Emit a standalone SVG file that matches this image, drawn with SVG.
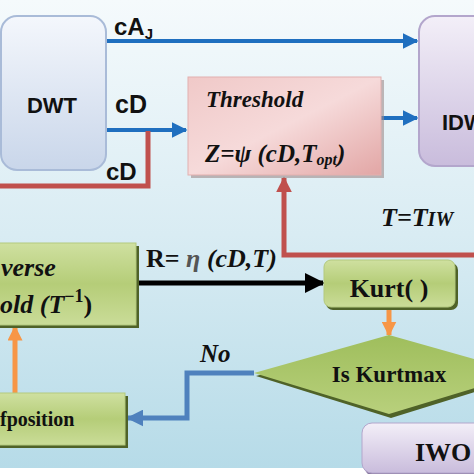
<svg xmlns="http://www.w3.org/2000/svg" width="474" height="474" viewBox="0 0 474 474">
<defs>
<linearGradient id="bg" x1="0" y1="0" x2="0" y2="1">
<stop offset="0" stop-color="#f5fafc"/><stop offset="0.5" stop-color="#d9ecf3"/><stop offset="1" stop-color="#b6dbe8"/>
</linearGradient>
<linearGradient id="gBlue" x1="0" y1="0" x2="0" y2="1">
<stop offset="0" stop-color="#f4f7fc"/><stop offset="1" stop-color="#c9d6ea"/>
</linearGradient>
<linearGradient id="gPurple" x1="0" y1="0" x2="0" y2="1">
<stop offset="0" stop-color="#f3eff8"/><stop offset="1" stop-color="#c9bcdc"/>
</linearGradient>
<linearGradient id="gPink" x1="0" y1="0" x2="1" y2="1">
<stop offset="0" stop-color="#f0c9c8"/><stop offset="0.5" stop-color="#f6dada"/><stop offset="1" stop-color="#e2a6a5"/>
</linearGradient>
<linearGradient id="gGreen" x1="0" y1="0" x2="0" y2="1">
<stop offset="0" stop-color="#cfe0a0"/><stop offset="0.5" stop-color="#b5cd78"/><stop offset="1" stop-color="#cadc98"/>
</linearGradient>
<linearGradient id="gDia" x1="0" y1="0" x2="0" y2="1">
<stop offset="0" stop-color="#9fbe5c"/><stop offset="1" stop-color="#b8d07c"/>
</linearGradient>
<marker id="aBlue" viewBox="0 0 10 10" refX="9" refY="5" markerWidth="4" markerHeight="4" markerUnits="strokeWidth" orient="auto"><path d="M0,0 L10,5 L0,10 z" fill="#1f6fbf"/></marker>
<marker id="aBlue2" viewBox="0 0 10 10" refX="9" refY="5" markerWidth="3.4" markerHeight="3.4" markerUnits="strokeWidth" orient="auto"><path d="M0,0 L10,5 L0,10 z" fill="#4f81bd"/></marker>
<marker id="aRed" viewBox="0 0 10 10" refX="9" refY="5" markerWidth="3.2" markerHeight="3.2" markerUnits="strokeWidth" orient="auto"><path d="M0,0 L10,5 L0,10 z" fill="#c0504d"/></marker>
<marker id="aBlack" viewBox="0 0 10 10" refX="9" refY="5" markerWidth="4" markerHeight="4" markerUnits="strokeWidth" orient="auto"><path d="M0,0 L10,5 L0,10 z" fill="#000"/></marker>
<marker id="aOrange" viewBox="0 0 10 10" refX="9" refY="5" markerWidth="3" markerHeight="3" markerUnits="strokeWidth" orient="auto"><path d="M0,0 L10,5 L0,10 z" fill="#f79646"/></marker>
</defs>
<style>
.sans{font-family:"Liberation Sans",Arial,sans-serif;font-weight:bold;fill:#111}
.serif{font-family:"Liberation Serif","Times New Roman",serif;font-weight:bold;fill:#111}
.it{font-style:italic}
.gbox{fill:url(#gGreen);stroke:#b3c97e;stroke-width:1}
.shadow{fill:#4f6228}
</style>
<rect x="0" y="0" width="474" height="468" fill="url(#bg)"/>
<rect x="0" y="468" width="474" height="6" fill="#ffffff"/>

<g id="connectors" fill="none">
<path d="M106,41 H417" stroke="#1f6fbf" stroke-width="4" marker-end="url(#aBlue)"/>
<path d="M106,130 H186" stroke="#1f6fbf" stroke-width="4" marker-end="url(#aBlue)"/>
<path d="M381,118 H417" stroke="#1f6fbf" stroke-width="4" marker-end="url(#aBlue)"/>
<path d="M0,186 H148 V131" stroke="#c0504d" stroke-width="5"/>
<path d="M474,255 H284 V178" stroke="#c0504d" stroke-width="5" marker-end="url(#aRed)"/>
<path d="M136,283 H323" stroke="#000" stroke-width="5" marker-end="url(#aBlack)"/>
<path d="M389,308 V335" stroke="#f79646" stroke-width="5" marker-end="url(#aOrange)"/>
<path d="M15,393 V327" stroke="#f79646" stroke-width="5" marker-end="url(#aOrange)"/>
<path d="M254,373 H187 V418 H128" stroke="#4f81bd" stroke-width="5" marker-end="url(#aBlue2)"/>
</g>

<g id="labels">
<text class="sans" x="114" y="35" font-size="24">cA<tspan font-size="15" dy="4">J</tspan></text>
<text class="sans" x="115" y="113" font-size="25">cD</text>
<text class="sans" x="106" y="180" font-size="24">cD</text>
<text class="serif it" x="381" y="226" font-size="26">T=T<tspan font-size="20">IW</tspan></text>
<text class="serif" x="146" y="267" font-size="26">R= <tspan class="it" fill="#555">η</tspan>  <tspan class="it">(cD,T)</tspan></text>
<text class="serif it" x="200" y="362" font-size="25">No</text>
</g>

<g id="dwt">
<rect x="1" y="16" width="105" height="154" rx="16" fill="url(#gBlue)" stroke="#a9bbd8" stroke-width="2"/>
<text class="sans" x="52" y="113" font-size="22" text-anchor="middle">DWT</text>
</g>

<g id="threshold">
<rect x="191" y="80" width="193" height="98" fill="#9c8a8a" opacity="0.6"/>
<rect x="188" y="77" width="193" height="98" fill="url(#gPink)" stroke="#e2b0af" stroke-width="1"/>
<text class="serif it" x="206" y="107" font-size="23">Threshold</text>
<text class="serif it" x="205" y="162" font-size="25">Z=ψ (cD,T<tspan font-size="16" dy="3">opt</tspan><tspan dy="-3">)</tspan></text>
</g>

<g id="idwt">
<rect x="419" y="16" width="80" height="150" rx="16" fill="url(#gPurple)" stroke="#b3a6cc" stroke-width="2"/>
<text class="sans" x="442" y="130" font-size="22">IDW</text>
</g>

<g id="inverse">
<rect x="-10" y="246" width="149" height="82" class="shadow"/>
<rect x="-10" y="243" width="146" height="82" class="gbox"/>
<text class="serif it" x="1" y="276" font-size="26">verse</text>
<text class="serif it" x="0" y="313" font-size="26">old (T<tspan font-style="normal" font-size="18" dy="-11">−1</tspan><tspan dy="11" font-style="normal">)</tspan></text>
</g>

<g id="kurt">
<rect x="326" y="263" width="132" height="47" rx="7" class="shadow"/>
<rect x="324" y="260" width="131" height="47" rx="7" class="gbox"/>
<text class="serif" x="389" y="297" font-size="26" text-anchor="middle">Kurt( )</text>
</g>

<g id="kurtmax">
<path d="M256,376 L391,338 L526,376 L391,418 z" fill="#4f6228"/>
<path d="M254,373 L389,335 L524,373 L389,414 z" fill="url(#gDia)"/>
<text class="serif" x="389" y="382" font-size="23" text-anchor="middle">Is Kurtmax</text>
</g>

<g id="position">
<rect x="-10" y="396" width="138" height="52" class="shadow"/>
<rect x="-10" y="393" width="135" height="52" class="gbox"/>
<text class="serif" x="0" y="426" font-size="20">fposition</text>
</g>

<g id="iwo">
<rect x="364" y="426" width="130" height="50" rx="10" fill="#8a7aa0"/>
<rect x="362" y="423" width="130" height="50" rx="10" fill="url(#gPurple)" stroke="#b3a6cc" stroke-width="1"/>
<text class="serif" x="415" y="461" font-size="26">IWO</text>
</g>
</svg>
